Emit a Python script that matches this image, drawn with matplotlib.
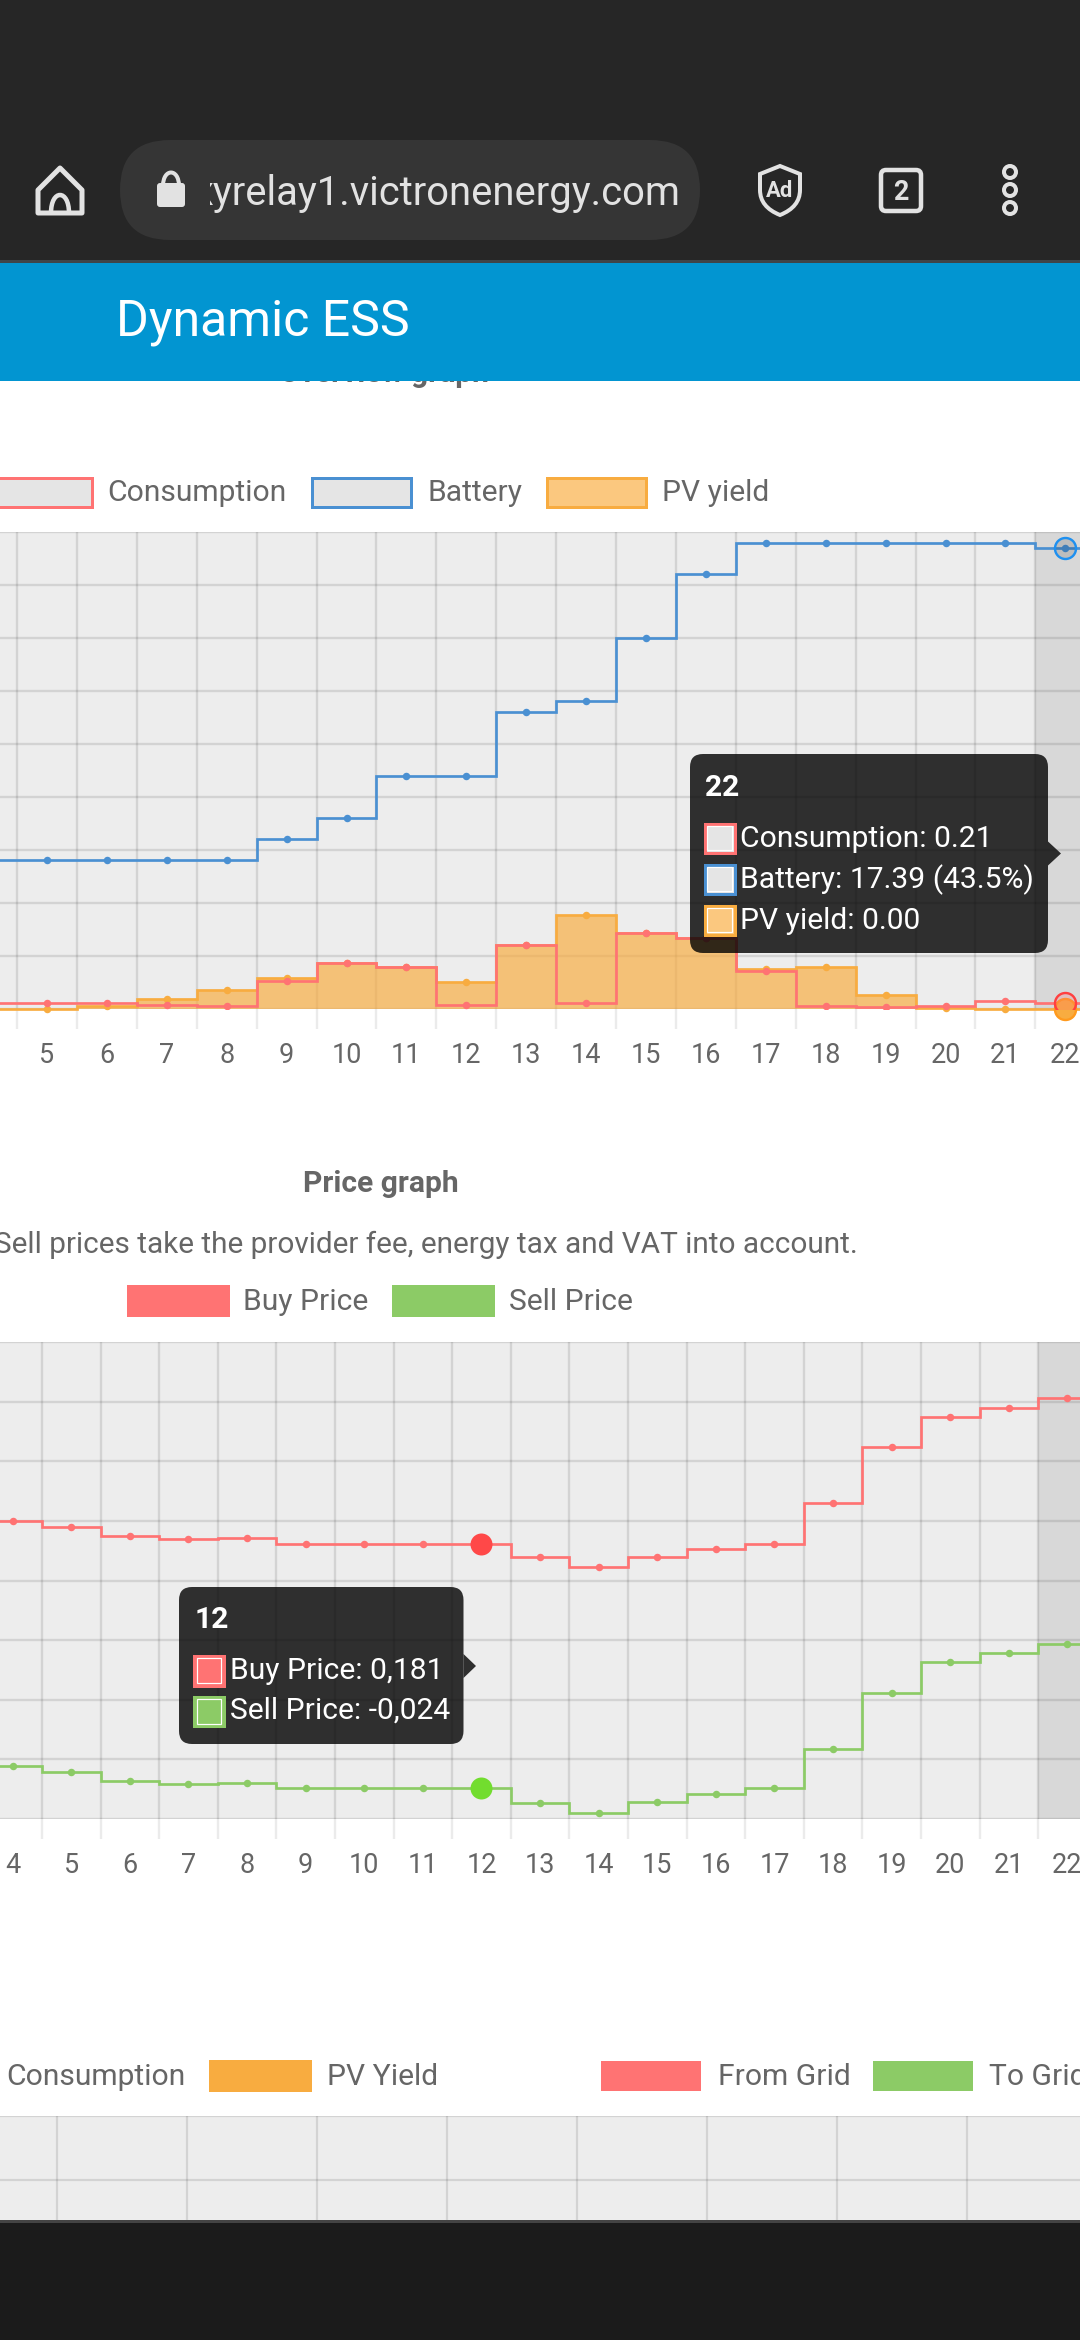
import matplotlib
matplotlib.use("Agg")
import matplotlib.pyplot as plt
from matplotlib.patches import FancyBboxPatch, Rectangle, Polygon, Circle, PathPatch
from matplotlib.path import Path

W, H = 1080, 2340
DPI = 100
plt.rcParams['font.family'] = ['Roboto', 'DejaVu Sans']

# ---------- data ----------
hours_overview = [4, 5, 6, 7, 8, 9, 10, 11, 12, 13, 14, 15, 16, 17, 18, 19, 20, 21, 22, 23]
consumption = [0.22, 0.22, 0.22, 0.16, 0.13, 1.05, 1.72, 1.58, 0.16, 2.41, 0.23, 2.88, 2.69, 1.43, 0.12, 0.08, 0.12, 0.32, 0.21, 0.21]
battery = [5.62, 5.62, 5.62, 5.62, 5.62, 6.41, 7.22, 8.81, 8.81, 11.21, 11.61, 14.0, 16.4, 17.6, 17.6, 17.6, 17.6, 17.6, 17.39, 17.39]
pv_yield = [0.0, 0.01, 0.12, 0.36, 0.73, 1.16, 1.72, 1.58, 1.02, 2.41, 3.54, 2.88, 2.69, 1.51, 1.58, 0.51, 0.03, 0.01, 0.0, 0.0]
overview_yticks = [0, 2, 4, 6, 8, 10, 12, 14, 16, 18]

hours_price = [3, 4, 5, 6, 7, 8, 9, 10, 11, 12, 13, 14, 15, 16, 17, 18, 19, 20, 21, 22, 23]
buy_price = [0.1997, 0.1997, 0.1949, 0.1877, 0.185, 0.1856, 0.181, 0.181, 0.181, 0.181, 0.1695, 0.161, 0.170, 0.1764, 0.181, 0.2147, 0.2617, 0.2874, 0.2949, 0.3027, 0.3027]
sell_price = [-0.0057, -0.0057, -0.0108, -0.018, -0.0207, -0.020, -0.024, -0.024, -0.024, -0.024, -0.0365, -0.045, -0.036, -0.0293, -0.024, 0.009, 0.056, 0.0817, 0.0892, 0.097, 0.097]
price_yticks = [-0.05, 0.0, 0.05, 0.10, 0.15, 0.20, 0.25, 0.30, 0.35]

RED = '#FF7373'
BLUE = '#4A90D2'
ORANGE = '#F8AC40'
GREEN = '#8CCB66'
GRID_ALPHA = 0.105
TXT = '#666666'


def px(v):
    return v * 72.0 / DPI


fig = plt.figure(figsize=(W / DPI, H / DPI), dpi=DPI, facecolor='white')


def chart_axes(top, bottom):
    ax = fig.add_axes([0, 1 - bottom / H, 1, (bottom - top) / H], zorder=1)
    ax.set_facecolor('#EDEDED')
    for s in ax.spines.values():
        s.set_visible(False)
    ax.set_axisbelow(True)
    return ax


def finish_axes(ax, hours, yticks, xref, xstep, href):
    ax.set_yticks(yticks)
    ax.set_xticks([h - 0.5 for h in hours])
    ax.set_xticks(hours, minor=True)
    ax.set_xticklabels([str(h) for h in hours], minor=True)
    ax.set_xticklabels([], minor=False)
    ax.grid(True, which='major', color='black', alpha=GRID_ALPHA, linewidth=px(2.4))
    ax.tick_params(axis='x', which='major', length=px(20), width=px(2.4), color=(0, 0, 0, 0.08))
    ax.tick_params(axis='x', which='minor', length=0, pad=px(33), labelsize=px(27), labelcolor=TXT)
    ax.tick_params(axis='y', length=0, labelleft=False)
    ax.set_xlim(href + (0 - xref) / xstep, href + (W - xref) / xstep)
    ax.set_ylim(yticks[0], yticks[-1])


def stepline(ax, x, y, color, lw=2.7, ms=7.5, z=3, clip=True):
    ax.plot(x, y, drawstyle='steps-mid', color=color, lw=px(lw), zorder=z, solid_joinstyle='miter', clip_on=clip)
    ax.plot(x, y, ls='none', marker='o', ms=px(ms), mfc=color, mec='none', zorder=z, clip_on=clip)


# ---------- overview chart ----------
ax1 = chart_axes(532, 1009)
ax1.axvspan(21.5, 30, color='black', alpha=0.085, lw=0, zorder=0.5)
ax1.fill_between(hours_overview, pv_yield, 0, step='mid', color=ORANGE, alpha=0.68, lw=0, zorder=2)
stepline(ax1, hours_overview, pv_yield, ORANGE, z=3, clip=False)
stepline(ax1, hours_overview, consumption, RED, z=3.2)
stepline(ax1, hours_overview, battery, BLUE, z=3.4)
i22 = hours_overview.index(22)
ax1.plot([22], [pv_yield[i22]], 'o', ms=px(21), mfc=ORANGE, mec='#FF9A1E', mew=px(2.4), zorder=4, clip_on=False)
ax1.plot([22], [consumption[i22]], 'o', ms=px(21), mfc=(1, 0.45, 0.45, 0.25), mec='#FF4040', mew=px(2.4), zorder=4.1)
ax1.plot([22], [battery[i22]], 'o', ms=px(21), mfc=(0, 0, 0, 0.12), mec='#1E90F0', mew=px(2.4), zorder=4.2)
finish_axes(ax1, hours_overview, overview_yticks, 47, 59.9, 5)

# ---------- price chart ----------
ax2 = chart_axes(1342, 1819)
ax2.axvspan(21.5, 30, color='black', alpha=0.085, lw=0, zorder=0.5)
stepline(ax2, hours_price, buy_price, RED, z=3)
stepline(ax2, hours_price, sell_price, GREEN, z=3.2)
i12 = hours_price.index(12)
ax2.plot([12], [buy_price[i12]], 'o', ms=px(22), mfc='#FF4848', mec='none', zorder=4)
ax2.plot([12], [sell_price[i12]], 'o', ms=px(22), mfc='#72DD2E', mec='none', zorder=4)
finish_axes(ax2, hours_price, price_yticks, 71.3, 58.6, 5)

# ---------- third chart frame (only its top edge is visible) ----------
third_grid_x = [0, 1, 2, 3, 4, 5, 6, 7]
third_grid_y = [0, 1]
ax3 = fig.add_axes([0, 1 - 2223 / H, 1, (2223 - 2116) / H], zorder=1)
ax3.set_facecolor('#EDEDED')
for s in ax3.spines.values():
    s.set_visible(False)
ax3.set_xticks(third_grid_x)
ax3.set_yticks(third_grid_y)
ax3.grid(True, color='black', alpha=GRID_ALPHA, linewidth=px(2.2))
ax3.tick_params(length=0, labelleft=False, labelbottom=False)
ax3.set_xlim(-57 / 130.0, (W - 57) / 130.0)
ax3.set_ylim(-43 / 64.0, 1)

# ---------- page overlay in pixel coordinates ----------
ov = fig.add_axes([0, 0, 1, 1], zorder=5)
ov.set_xlim(0, W)
ov.set_ylim(H, 0)
ov.axis('off')
ov.patch.set_alpha(0)


def rect(x0, y0, x1, y1, fc, ec='none', lw=0, z=1):
    ov.add_patch(Rectangle((x0, y0), x1 - x0, y1 - y0, fc=fc, ec=ec, lw=px(lw), zorder=z))


def rbox(x0, y0, x1, y1, r, fc, ec='none', lw=0, z=1, alpha=None):
    p = FancyBboxPatch((x0 + r, y0 + r), x1 - x0 - 2 * r, y1 - y0 - 2 * r,
                       boxstyle='round,pad=%f,rounding_size=%f' % (r, r),
                       fc=fc, ec=ec, lw=px(lw), zorder=z, alpha=alpha)
    ov.add_patch(p)
    return p


def text(x, y, s, size=30, color=TXT, weight='normal', z=2, ha='left'):
    return ov.text(x, y, s, fontsize=px(size), color=color, fontweight=weight, ha=ha, va='baseline', zorder=z)


# section titles
text(279, 382, 'Overview graph', 30, TXT, 'bold', z=1)
text(303, 1192, 'Price graph', 30, TXT, 'bold')
text(-6, 1253, 'Sell prices take the provider fee, energy tax and VAT into account.', 29.7)

# legends
LEG_GRAY = '#E5E5E5'
rect(-20, 477.5, 92, 506.5, LEG_GRAY, RED, 3)
text(107, 501, 'Consumption')
rect(311.5, 477.5, 410.5, 506.5, LEG_GRAY, BLUE, 3)
text(427, 501, 'Battery')
rect(546.5, 477.5, 645.5, 506.5, '#FBC87F', ORANGE, 3)
text(662, 501, 'PV yield')

rect(127, 1285, 230, 1317, RED)
text(243, 1310, 'Buy Price')
rect(392, 1285, 495, 1317, GREEN)
text(509, 1310, 'Sell Price')

text(6, 2085, 'Consumption')
rect(209, 2060, 312, 2092, ORANGE)
text(327, 2085, 'PV Yield')
rect(601, 2061, 701, 2091, RED)
text(718, 2085, 'From Grid')
rect(873, 2061, 973, 2091, GREEN)
text(989, 2085, 'To Grid')


# tooltips
def swatch(x0, y0, x1, y1, edge, fill):
    rect(x0 + 1.5, y0 + 1.5, x1 - 1.5, y1 - 1.5, fill, edge, 3, z=4)
    rect(x0 + 4, y0 + 4, x1 - 4, y1 - 4, 'none', 'white', 1.2, z=4.1)


def tooltip(x0, y0, x1, y1, tipx, tipy):
    rbox(x0, y0, x1, y1, 13, 'black', z=3, alpha=0.8)
    ov.add_patch(Polygon([(x1, tipy - 12), (tipx, tipy), (x1, tipy + 12)], closed=True, fc='black', alpha=0.8, ec='none', zorder=3))


tooltip(690, 754, 1048, 953, 1061, 853.5)
text(705, 796, '22', 30, 'white', 'bold', z=4)
swatch(703, 822, 736, 854, RED, LEG_GRAY)
swatch(703, 863, 736, 895, BLUE, LEG_GRAY)
swatch(703, 904, 736, 936, ORANGE, '#FBC87F')
text(740, 847, 'Consumption: 0.21', 30, 'white', z=4)
text(740, 888, 'Battery: 17.39 (43.5%)', 30, 'white', z=4)
text(740, 929, 'PV yield: 0.00', 30, 'white', z=4)

tooltip(179, 1587, 463.5, 1744, 476, 1666)
text(195, 1628, '12', 30, 'white', 'bold', z=4)
swatch(192.5, 1654, 225, 1687, RED, RED)
swatch(192.5, 1695, 225, 1727.5, GREEN, GREEN)
text(230, 1679, 'Buy Price: 0,181', 30, 'white', z=4)
text(230, 1719, 'Sell Price: -0,024', 30, 'white', z=4)

# header bars
rect(0, 263, W, 381, '#0295D1', z=6)
text(116, 335, 'Dynamic ESS', 50, 'white', z=7)
rect(0, 0, W, 260, '#262626', z=6)
rect(0, 260, W, 263, '#3F4448', z=6)
rect(0, 2220, W, 2223, '#444444', z=6)
rect(0, 2223, W, H, '#1B1B1B', z=6)

# address bar
rbox(120, 140, 700, 240, 50, '#353535', z=7)
url = text(680, 205, 'xyrelay1.victronenergy.com', 40, '#E2E2E2', z=8, ha='right')
url.set_clip_on(True)
url.set_clip_path(Rectangle((210, 140), 480, 100, transform=ov.transData))

ICON = '#E2E2E2'
# lock
rbox(157, 183, 185, 207, 3, ICON, z=8)
shackle = Path([(163, 186), (163, 168), (179, 168), (179, 186)], [Path.MOVETO, Path.CURVE4, Path.CURVE4, Path.CURVE4])
ov.add_patch(PathPatch(shackle, fc='none', ec=ICON, lw=px(4), zorder=8))

# home
home = [(60, 168), (82, 190), (82, 213), (38, 213), (38, 190)]
ov.add_patch(Polygon(home, closed=True, fc='none', ec=ICON, lw=px(5), joinstyle='round', zorder=8))
door = Path([(51, 213), (51, 189), (69, 189), (69, 213)], [Path.MOVETO, Path.CURVE4, Path.CURVE4, Path.CURVE4])
ov.add_patch(PathPatch(door, fc='none', ec=ICON, lw=px(4.5), zorder=8))

# shield
shield = Path([(780, 166), (800, 174), (800, 190), (800, 207), (780, 215), (760, 207), (760, 190), (760, 174), (780, 166)],
              [Path.MOVETO, Path.LINETO, Path.LINETO, Path.CURVE3, Path.CURVE3, Path.CURVE3, Path.CURVE3, Path.LINETO, Path.CLOSEPOLY])
ov.add_patch(PathPatch(shield, fc='none', ec=ICON, lw=px(4), zorder=8))
text(780, 197, 'Ad', 22, ICON, 'bold', z=8, ha='center')

# tabs
rbox(881, 170, 921, 211, 5, 'none', ICON, 4.5, z=8)
text(901, 200, '2', 27, ICON, 'bold', z=8, ha='center')

# overflow menu
dot_rows = [172, 190, 208]
for yy in dot_rows:
    ov.add_patch(Circle((1010, yy), 6, fc='none', ec=ICON, lw=px(4), zorder=8))

fig.savefig('out.png', dpi=DPI, facecolor='white')
